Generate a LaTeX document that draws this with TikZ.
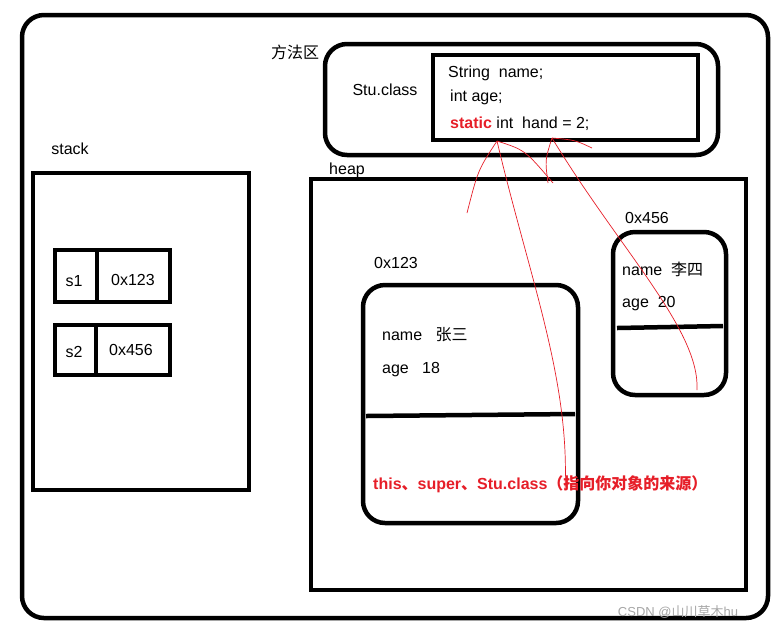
\documentclass[tikz,border=0pt]{standalone}
\usepackage{fontspec}
\setmainfont{Liberation Sans}
\newfontfamily\cjk{Noto Sans CJK SC}
\definecolor{inkred}{RGB}{230,30,40}
\begin{document}
\begin{tikzpicture}
        [x=1pt,y=-1pt,every node/.style={inner sep=0,font=\fontsize{16}{18}\selectfont},
        box/.style={draw,line width=4.5pt,black},
        rbox/.style={box,rounded corners=22pt},
        txt/.style={anchor=west},
        redline/.style={draw=inkred,line width=0.7pt}]

        \useasboundingbox (0,0) rectangle (778,633);

        \draw[rbox] (22,15) rectangle (768,618);
        \node (mlabel) at (295,52) {\cjk 方法区};
        \draw[rbox] (325,44) rectangle (718,155);
        \node (stu) at (385,90) {Stu.class};
        \draw[box] (433,55) rectangle (698,140);
        \node[txt] (f1) at (448,73) {String\ \ name;};
        \node[txt] (f2) at (450,97) {int age;};
        \node[txt] (f3) at (450,124) {\textcolor{inkred}{\textbf{static}} int\ \ hand = 2;};

        \node (stack) at (70,149) {stack};
        \draw[box] (33,173) rectangle (249,490);
        \draw[box] (55,250) rectangle (170,302);
        \draw[box] (97,250) -- (97,302);
        \node (s1) at (74,281) {s1};
        \node (a1) at (133,280) {0x123};
        \draw[box] (55,325) rectangle (170,375);
        \draw[box] (96,325) -- (96,377);
        \node (s2) at (74,352) {s2};
        \node (a2) at (131,350) {0x456};

        \node (heap) at (347,170) {heap};
        \draw[box] (311,179) rectangle (746,590);

        \node (h1) at (396,263) {0x123};
        \draw[rbox] (363,285) rectangle (578,523);
        \draw[box] (366,416) -- (575,414);
        \node[txt] (n1) at (382,335) {name\ \ \ {\cjk 张三}};
        \node[txt] (g1) at (382,370) {age\ \ \ 18};
        \node[txt,text=inkred,font=\bfseries\fontsize{16}{18}\selectfont] (src) at (373,484)
          {this{\cjk 、}super{\cjk 、}Stu.class{\cjk （指向你对象的来源）}};

        \node (h2) at (647,218) {0x456};
        \draw[rbox] (613,232) rectangle (726,395);
        \draw[box] (617,328) -- (723,326);
        \node[txt] (n2) at (622,269) {name\ \ {\cjk 李四}};
        \node[txt] (g2) at (622,304) {age\ \ 20};

        % freehand strokes
        \coordinate (p1) at (497,141);
        \coordinate (p2) at (552,138);
        \draw[redline] (467,213) .. controls (478,170) .. (p1);
        \draw[redline] (p1) .. controls (530,280) and (570,380) .. (565,490);
        \draw[redline] (p1) .. controls (525,150) .. (553,183);
        \draw[redline] (548,183) .. controls (545,160) .. (p2);
        \draw[redline] (p2) .. controls (575,140) .. (592,148);
        \draw[redline] (p2) .. controls (620,250) and (700,330) .. (697,390);

        \node[text=gray!70,font=\fontsize{13}{15}\selectfont] (mark) at (678,612) {CSDN @{\cjk 山川草木}hu};

      \end{tikzpicture}
\end{document}
